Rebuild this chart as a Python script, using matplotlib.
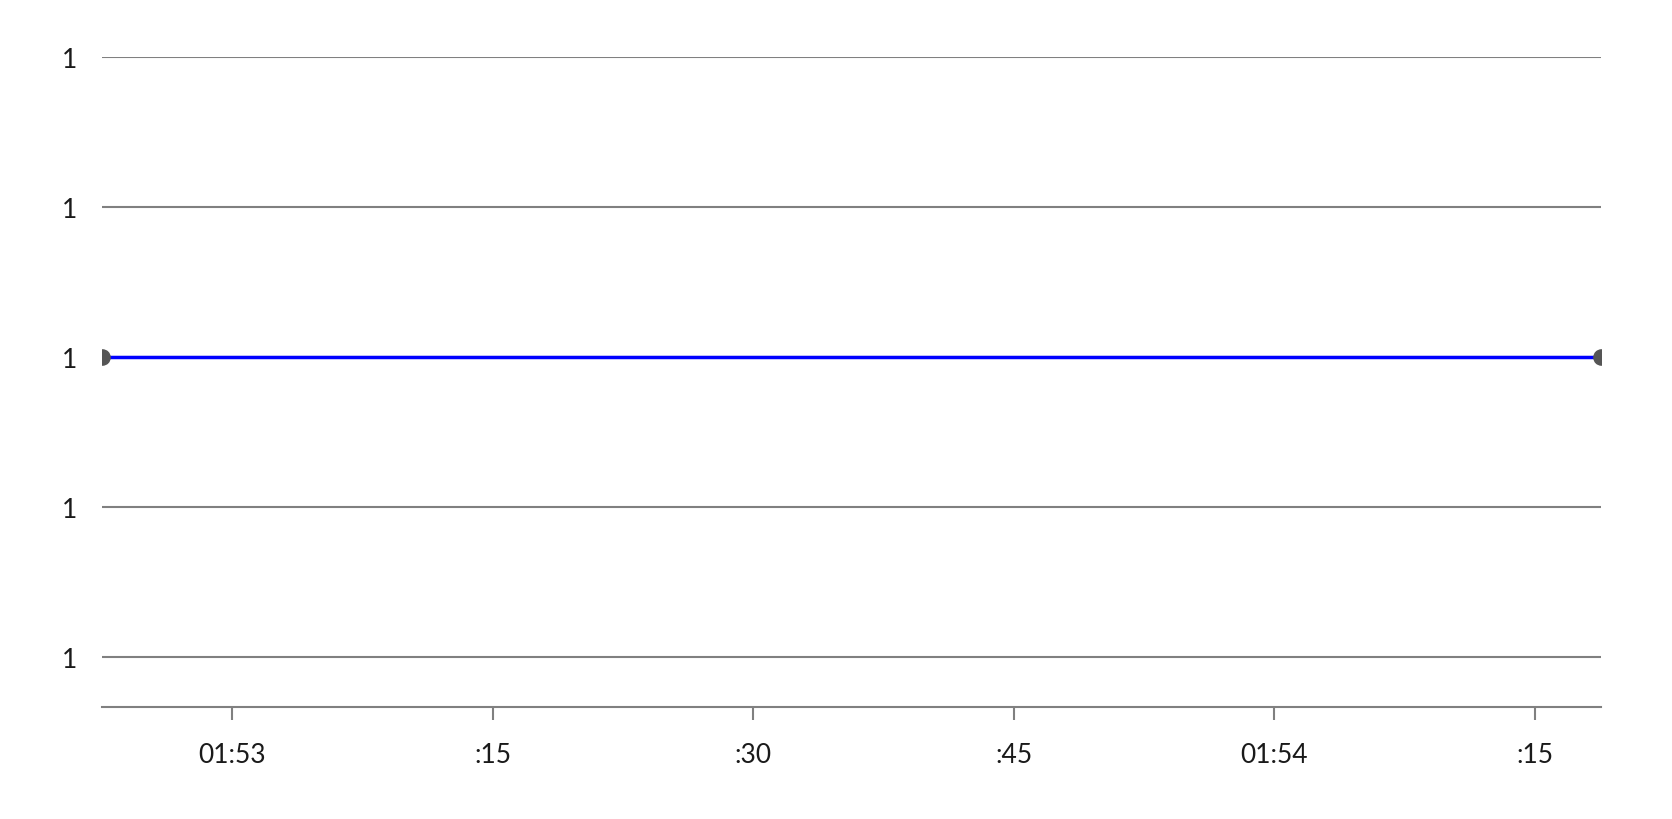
import numpy as np
import pandas as pd
import matplotlib
matplotlib.use("Agg")
import matplotlib.pyplot as plt
import matplotlib.dates as mdates
from matplotlib.ticker import FuncFormatter

times = pd.to_datetime(["2024-01-01 01:52:52.5", "2024-01-01 01:54:18.8"])
values = [1.0, 1.0]
y_ticks = [0.6, 0.8, 1.0, 1.2, 1.4]

plt.rcParams['font.family'] = ['Lato', 'DejaVu Sans']

W, H = 1672, 820
fig = plt.figure(figsize=(W / 100, H / 100), dpi=100)
ax = fig.add_axes([102 / W, (H - 708) / H, (1601 - 102) / W, (708 - 57.7) / H])

ax.plot(times, values, color='#0000ff', lw=2.5, zorder=3, clip_on=True)
ax.scatter(times, values, s=120, color='#555555', zorder=4, clip_on=True)

ax.set_xlim(times[0], times[-1])
ax.set_ylim(0.5333, 1.4)
ax.set_yticks(y_ticks)
ax.yaxis.set_major_formatter(FuncFormatter(lambda v, p: f"{v:.0f}"))

ax.xaxis.set_major_locator(mdates.SecondLocator(bysecond=[0, 15, 30, 45]))


def fmt_time(x, pos):
    d = mdates.num2date(x)
    if d.second == 0:
        return d.strftime("%H:%M")
    return d.strftime(":%S")


ax.xaxis.set_major_formatter(FuncFormatter(fmt_time))

ax.grid(axis='y', color='#808080', lw=1.5)
ax.set_axisbelow(True)
for s in ['top', 'right', 'left']:
    ax.spines[s].set_visible(False)
ax.spines['bottom'].set_color('#808080')
ax.spines['bottom'].set_linewidth(1.5)

ax.tick_params(axis='y', length=0, pad=18, labelsize=19, labelcolor='#1a1a1a')
ax.tick_params(axis='x', length=9, width=1.5, color='#808080', pad=16.5,
               labelsize=19, labelcolor='#1a1a1a')

fig.savefig("out.png", dpi=100)
